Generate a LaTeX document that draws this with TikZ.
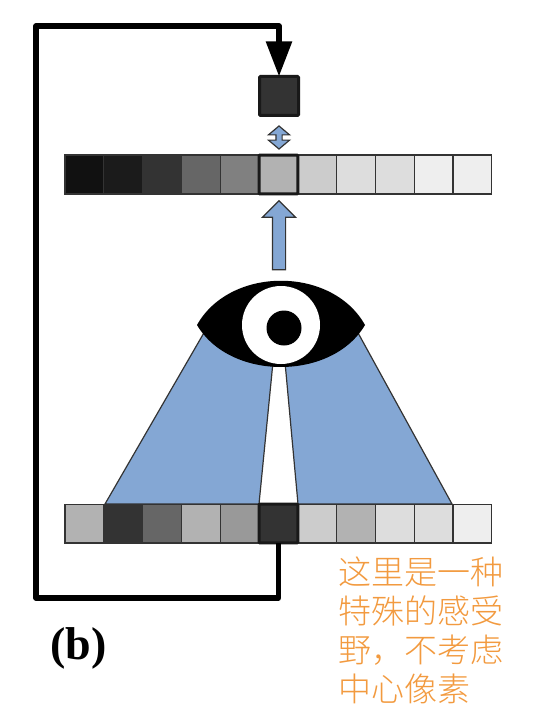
\documentclass[tikz,border=0pt]{standalone}
\usepackage{fontspec}
\usetikzlibrary{arrows.meta,shapes.arrows}
\newfontfamily\cjk{Noto Sans CJK SC Light}
\newfontfamily\tagfont{Liberation Serif}
\definecolor{eyeblue}{HTML}{84A7D4}
\definecolor{noteorange}{HTML}{F29A3F}
\tikzset{
cell/.style={draw=black!80,line width=1.2pt,minimum size=38.8pt,inner sep=0pt,outer sep=0pt,fill=#1},
hot/.style={draw=black!90,line width=3pt,minimum size=38.8pt,inner sep=0pt,outer sep=0pt,rounded corners=1pt,fill=#1},
loopline/.style={line width=5.5pt,line join=round,-{Triangle[length=35pt,width=25pt]}},
blue/.style={draw=black!80,line width=1.2pt,fill=eyeblue},
}
\begin{document}
\begin{tikzpicture}[x=1pt,y=-1pt]
\useasboundingbox (0,0) rectangle (538,714);
% receptive field
\draw[blue] (105,504)--(205,331)--(273,362)--(259,504)--cycle;
\draw[blue] (298,504)--(285,362)--(357,331)--(452,504)--cycle;
% rows of pixels
\foreach \g [count=\i from 0] in {11,1B,33,66,80,B2,CC,DD,DD,EE,EE}{
\definecolor{tone}{HTML}{\g\g\g}
\node[cell=tone] (top\i) at ({84.4+38.8*\i},174.5) {};}
\foreach \g [count=\i from 0] in {B2,33,66,B2,99,33,CC,B2,DD,DD,EE}{
\definecolor{tone}{HTML}{\g\g\g}
\node[cell=tone] (bot\i) at ({84.4+38.8*\i},523.5) {};}
\definecolor{tone}{HTML}{B2B2B2}
\node[hot=tone] (topmid) at (top5) {};
\definecolor{tone}{HTML}{333333}
\node[hot=tone] (botmid) at (bot5) {};
\node[hot=tone,minimum size=39pt] (box) at (279,96) {};
% feedback
\coordinate (loopa) at (36,598);
\coordinate (loopb) at (36,26);
\draw[loopline] (botmid.south) |- (loopa) -- (loopb) -| (box.north);
% arrows
\node[blue,single arrow,shape border rotate=90,inner sep=6pt,minimum height=69pt,minimum width=32pt,single arrow head extend=10pt,single arrow tip angle=90,outer sep=0pt] (look) at (279,238.5) {};
\node[blue,double arrow,shape border rotate=90,inner sep=2.5pt,minimum height=23pt,minimum width=20pt,double arrow head extend=7.5pt,double arrow tip angle=100,outer sep=0pt] (same) at (279,137.5) {};
% eye
\fill (197,325) .. controls (230,266) and (332,266) .. (365,325) .. controls (332,381) and (230,381) .. cycle;
\node[circle,fill=white,minimum size=78pt,inner sep=0pt] (iris) at (281,325) {};
\node[circle,fill=black,minimum size=35pt,inner sep=0pt] (pupil) at (284,328) {};
% labels
\node[anchor=center,font=\tagfont\fontsize{46}{46}\selectfont\bfseries] (tag) at (78.5,648) {(b)};
\node[anchor=north west,inner sep=0pt,align=left,text=noteorange,font=\cjk\fontsize{33}{39}\selectfont] (note) at (338,557) {这里是一种\\特殊的感受\\野，不考虑\\中心像素};
\end{tikzpicture}
\end{document}
